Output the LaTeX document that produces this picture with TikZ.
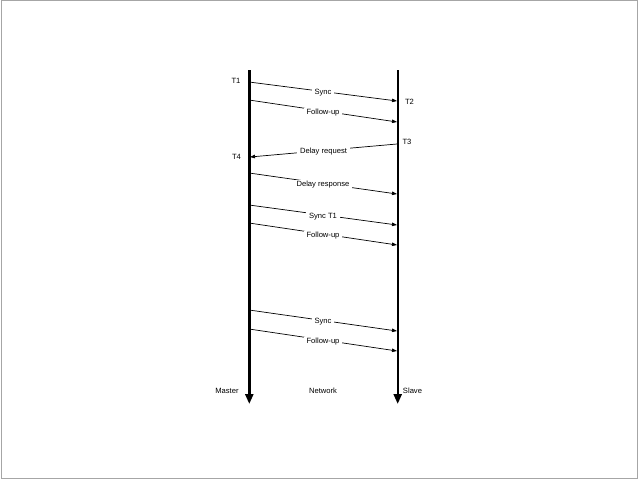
\documentclass[tikz,border=0pt]{standalone}
\usepackage{fontspec}
\setmainfont{Liberation Sans}
\usetikzlibrary{arrows.meta}
\begin{document}
\begin{tikzpicture}[x=1pt,y=-1pt,
  lbl/.style={font=\fontsize{7.6}{9}\selectfont, inner sep=0pt},
  msg/.style={line width=0.7pt, -{Triangle[length=5pt,width=3.5pt]}},
  mlabel/.style={lbl, fill=white, inner xsep=3pt, inner ysep=1pt, midway, yshift=-1.2pt},
  timeline/.style={line width=2.4pt, -{Triangle[length=10pt,width=8pt]}}]
\useasboundingbox (0,0) rectangle (638,479);
\draw[gray!70, line width=1pt] (1,0.5) rectangle (637,478);
% timelines
\coordinate (mtop) at (249.3,70);
\coordinate (mbot) at (249.3,404);
\coordinate (stop) at (397.7,70);
\coordinate (sbot) at (397.7,404);
\draw[timeline] (mtop) -- (mbot);
\draw[timeline] (stop) -- (sbot);
% endpoints
\coordinate (a1) at (249,82);  \coordinate (b1) at (397,101);
\coordinate (a2) at (249,100); \coordinate (b2) at (397,122);
\coordinate (b3) at (397,144); \coordinate (a3) at (250,157);
\coordinate (a4) at (249,173); \coordinate (b4) at (397,194);
\coordinate (a5) at (249,205); \coordinate (b5) at (397,225);
\coordinate (a6) at (249,223); \coordinate (b6) at (397,245);
\coordinate (a7) at (249,310); \coordinate (b7) at (397,331);
\coordinate (a8) at (249,329); \coordinate (b8) at (397,351);
\draw[msg] (a1) -- node[mlabel] (l1) {Sync} (b1);
\draw[msg] (a2) -- node[mlabel] (l2) {Follow-up} (b2);
\draw[msg] (b3) -- node[mlabel] (l3) {Delay request} (a3);
\draw[msg] (a4) -- node[mlabel] (l4) {Delay response} (b4);
\draw[msg] (a5) -- node[mlabel] (l5) {Sync T1} (b5);
\draw[msg] (a6) -- node[mlabel] (l6) {Follow-up} (b6);
\draw[msg] (a7) -- node[mlabel] (l7) {Sync} (b7);
\draw[msg] (a8) -- node[mlabel] (l8) {Follow-up} (b8);
% time labels
\node[lbl] (t1) at (236,81) {T1};
\node[lbl] (t2) at (409.5,102) {T2};
\node[lbl] (t3) at (407,141.5) {T3};
\node[lbl] (t4) at (236.5,157) {T4};
\node[lbl] (master) at (227,391) {Master};
\node[lbl] (network) at (323,391) {Network};
\node[lbl] (slave) at (412.5,391) {Slave};
\end{tikzpicture}
\end{document}
